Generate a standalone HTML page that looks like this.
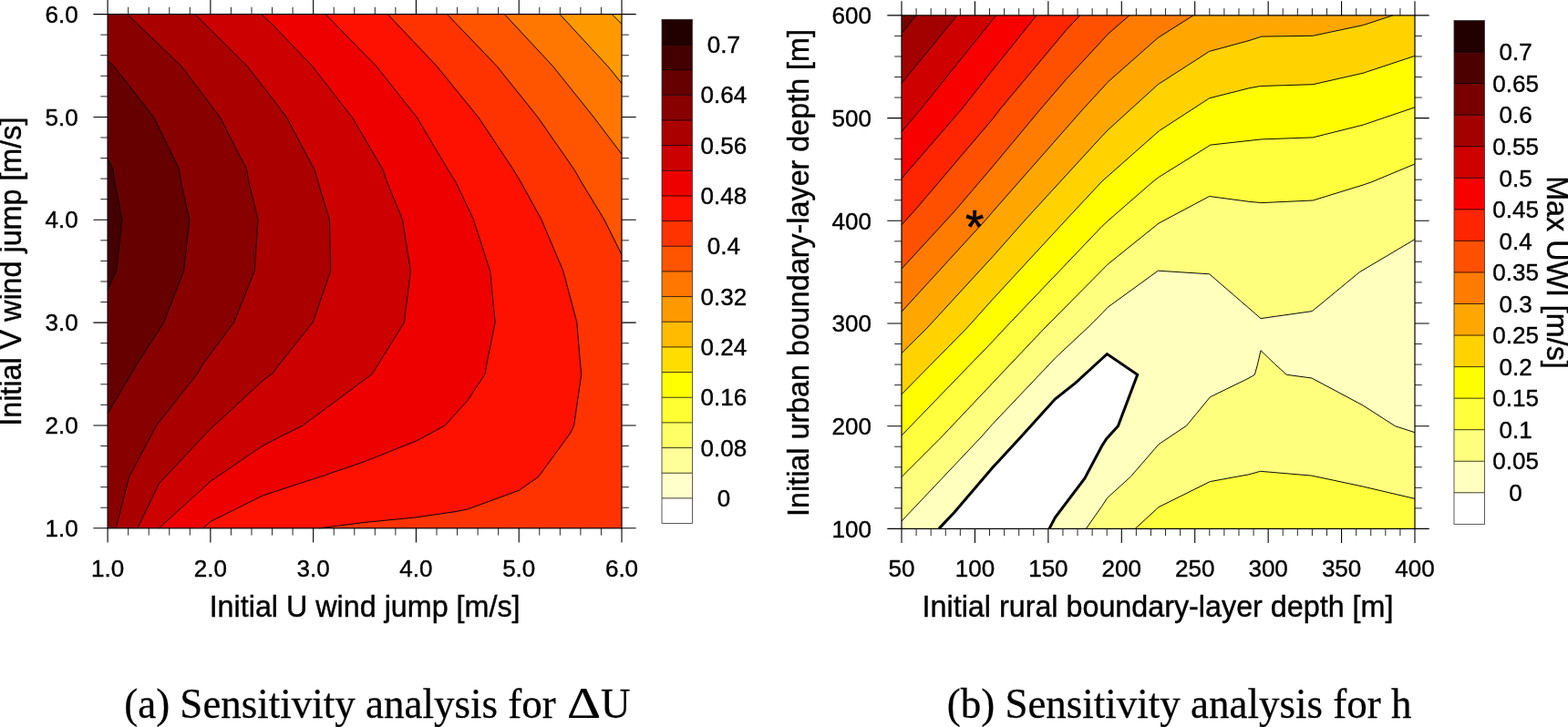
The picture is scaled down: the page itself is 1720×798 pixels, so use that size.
<!DOCTYPE html>
<html lang="en"><head><meta charset="utf-8"><title>Sensitivity analysis</title>
<style>
html,body{margin:0;padding:0;background:#fff;}
body{width:1720px;height:798px;overflow:hidden;}
svg{display:block;}
.s{font-family:"Liberation Sans",Arial,Helvetica,sans-serif;fill:#000;stroke:#000;stroke-width:0.4px;}
.t{font-size:26px;}
.a{font-size:32.3px;}
.c{font-family:"Liberation Serif","Times New Roman",Times,serif;font-size:45px;fill:#000;stroke:#000;stroke-width:0.25px;}
.ln{fill:none;stroke:#000;stroke-width:0.95;stroke-linejoin:round;}
.tk{stroke:#000;stroke-width:1.1;fill:none;}
.tm{stroke:#000;stroke-width:0.85;fill:none;}
.fr{stroke:#000;stroke-width:1.2;fill:none;}
.cb{stroke:#222;stroke-width:0.9;}
</style></head><body>
<svg width="1720" height="798" viewBox="0 0 1720 798">
<rect x="0" y="0" width="1720" height="798" fill="#fff"/>
<g id="plot-a">
<rect x="118.1" y="15.6" width="563.9" height="564.2" fill="#ffbb00"/>
<polygon points="671.2,15.6 682.0,26.3 682.0,579.8 118.1,579.8 118.1,15.6" fill="#ff9900"/>
<polygon points="614.0,15.6 666.7,72.7 682.0,91.5 682.0,579.8 118.1,579.8 118.1,15.6" fill="#ff7700"/>
<polygon points="553.4,15.6 606.5,72.7 651.6,129.0 682.0,169.2 682.0,579.8 118.1,579.8 118.1,15.6" fill="#ff5500"/>
<polygon points="490.5,15.6 500.0,25.6 545.1,72.7 590.2,129.0 630.3,186.7 637.8,200.0 662.9,241.1 682.0,279.7 682.0,579.8 118.1,579.8 118.1,15.6" fill="#ff3300"/>
<polygon points="425.3,15.6 479.2,72.7 500.0,98.3 525.0,129.0 562.7,185.5 571.4,200.0 594.0,241.1 617.8,297.5 632.8,353.9 636.6,400.0 637.8,410.5 629.6,466.9 625.8,475.2 590.7,523.3 569.4,538.3 512.5,559.1 500.0,561.5 456.6,567.9 400.3,573.4 350.1,579.8 118.1,579.8 118.1,15.6" fill="#ff1100"/>
<polygon points="357.1,15.6 412.8,72.7 457.4,129.0 491.7,186.7 500.0,200.0 519.5,241.1 537.6,297.5 543.1,353.9 533.8,400.0 532.1,410.5 512.5,440.1 500.0,453.9 488.0,467.2 456.6,484.0 400.3,506.5 351.4,523.3 300.0,540.0 288.0,544.1 231.1,572.4 222.8,579.8 118.1,579.8 118.1,15.6" fill="#ee0000"/>
<polygon points="286.7,15.6 300.0,28.0 342.6,72.7 386.5,129.0 420.3,186.7 424.6,200.0 441.6,241.1 450.4,297.5 443.4,353.9 414.8,400.0 408.3,410.5 332.1,467.2 300.0,483.0 286.7,490.2 231.6,527.8 174.4,579.8 118.1,579.8 118.1,15.6" fill="#cc0000"/>
<polygon points="214.0,15.6 271.2,72.7 300.0,109.5 314.5,129.0 345.0,186.5 348.9,200.0 361.4,241.1 362.7,297.5 343.1,353.9 306.3,400.0 300.0,409.0 288.0,418.0 230.3,471.4 174.4,530.8 150.9,579.8 118.1,579.8 118.1,15.6" fill="#aa0000"/>
<polygon points="139.6,15.6 199.0,72.7 241.6,129.0 270.4,185.5 273.0,200.0 283.0,241.1 279.2,297.5 256.6,353.9 222.3,400.0 216.5,410.3 171.6,466.9 141.6,523.6 127.1,579.8 118.1,579.8 118.1,15.6" fill="#880000"/>
<polygon points="118.1,66.4 125.0,72.7 168.9,129.0 196.5,185.5 198.5,200.0 207.8,241.1 201.5,297.5 179.7,353.9 150.1,400.0 118.1,453.9" fill="#660000"/>
<polygon points="118.1,174.2 123.8,185.5 125.8,200.0 133.8,241.1 127.6,297.5 118.1,317.8" fill="#440000"/>
<polyline class="ln" points="671.2,15.6 682.0,26.3"/>
<polyline class="ln" points="614.0,15.6 666.7,72.7 682.0,91.5"/>
<polyline class="ln" points="553.4,15.6 606.5,72.7 651.6,129.0 682.0,169.2"/>
<polyline class="ln" points="490.5,15.6 500.0,25.6 545.1,72.7 590.2,129.0 630.3,186.7 637.8,200.0 662.9,241.1 682.0,279.7"/>
<polyline class="ln" points="425.3,15.6 479.2,72.7 500.0,98.3 525.0,129.0 562.7,185.5 571.4,200.0 594.0,241.1 617.8,297.5 632.8,353.9 636.6,400.0 637.8,410.5 629.6,466.9 625.8,475.2 590.7,523.3 569.4,538.3 512.5,559.1 500.0,561.5 456.6,567.9 400.3,573.4 350.1,579.8"/>
<polyline class="ln" points="357.1,15.6 412.8,72.7 457.4,129.0 491.7,186.7 500.0,200.0 519.5,241.1 537.6,297.5 543.1,353.9 533.8,400.0 532.1,410.5 512.5,440.1 500.0,453.9 488.0,467.2 456.6,484.0 400.3,506.5 351.4,523.3 300.0,540.0 288.0,544.1 231.1,572.4 222.8,579.8"/>
<polyline class="ln" points="286.7,15.6 300.0,28.0 342.6,72.7 386.5,129.0 420.3,186.7 424.6,200.0 441.6,241.1 450.4,297.5 443.4,353.9 414.8,400.0 408.3,410.5 332.1,467.2 300.0,483.0 286.7,490.2 231.6,527.8 174.4,579.8"/>
<polyline class="ln" points="214.0,15.6 271.2,72.7 300.0,109.5 314.5,129.0 345.0,186.5 348.9,200.0 361.4,241.1 362.7,297.5 343.1,353.9 306.3,400.0 300.0,409.0 288.0,418.0 230.3,471.4 174.4,530.8 150.9,579.8"/>
<polyline class="ln" points="139.6,15.6 199.0,72.7 241.6,129.0 270.4,185.5 273.0,200.0 283.0,241.1 279.2,297.5 256.6,353.9 222.3,400.0 216.5,410.3 171.6,466.9 141.6,523.6 127.1,579.8"/>
<polyline class="ln" points="118.1,66.4 125.0,72.7 168.9,129.0 196.5,185.5 198.5,200.0 207.8,241.1 201.5,297.5 179.7,353.9 150.1,400.0 118.1,453.9"/>
<polyline class="ln" points="118.1,174.2 123.8,185.5 125.8,200.0 133.8,241.1 127.6,297.5 118.1,317.8"/>
</g>
<g id="plot-b">
<rect x="989.0" y="16.9" width="563.0" height="563.5" fill="#780000"/>
<polygon points="989.0,36.8 1004.8,16.9 1552.0,16.9 1552.0,580.4 989.0,580.4" fill="#a30000"/>
<polygon points="989.0,91.4 1049.9,16.9 1552.0,16.9 1552.0,580.4 989.0,580.4" fill="#ce0000"/>
<polygon points="989.0,144.6 1009.9,120.0 1089.0,21.4 1092.8,16.9 1552.0,16.9 1552.0,580.4 989.0,580.4" fill="#f90000"/>
<polygon points="989.0,196.0 1054.7,120.0 1089.0,76.7 1137.0,16.9 1552.0,16.9 1552.0,580.4 989.0,580.4" fill="#ff2500"/>
<polygon points="989.0,246.8 1004.3,230.0 1089.0,130.4 1096.9,120.0 1170.0,32.5 1184.7,16.9 1552.0,16.9 1552.0,580.4 989.0,580.4" fill="#ff5000"/>
<polygon points="989.0,295.0 1039.7,240.0 1048.7,230.0 1089.0,182.7 1141.2,120.0 1170.0,86.5 1209.0,44.4 1215.1,37.6 1238.9,16.9 1552.0,16.9 1552.0,580.4 989.0,580.4" fill="#ff7c00"/>
<polygon points="989.0,342.2 1082.5,240.0 1089.0,232.3 1187.8,120.0 1209.0,97.0 1215.1,90.2 1270.3,41.4 1309.1,16.9 1552.0,16.9 1552.0,580.4 989.0,580.4" fill="#ffa700"/>
<polygon points="989.0,387.7 1017.0,360.0 1089.0,281.6 1125.8,240.0 1209.0,149.3 1215.1,142.9 1270.3,92.7 1326.6,56.4 1370.0,44.6 1383.8,40.1 1440.2,39.3 1495.3,27.6 1527.9,16.9 1552.0,16.9 1552.0,580.4 989.0,580.4" fill="#ffd200"/>
<polygon points="989.0,432.8 1060.7,360.0 1089.0,328.4 1170.6,240.0 1209.0,198.9 1271.5,143.6 1326.6,107.8 1370.0,96.8 1382.5,94.5 1440.2,92.7 1495.3,80.2 1552.0,61.4 1552.0,580.4 989.0,580.4" fill="#fffd00"/>
<polygon points="989.0,478.0 1089.0,374.6 1102.5,360.0 1209.0,248.3 1215.1,242.6 1264.0,200.0 1271.5,194.2 1327.9,159.1 1370.0,154.4 1383.8,152.9 1440.2,150.9 1495.3,137.1 1552.0,117.8 1552.0,580.4 989.0,580.4" fill="#ffff3d"/>
<polygon points="989.0,523.5 1032.5,480.0 1089.0,420.2 1146.0,360.0 1209.0,296.4 1215.1,290.2 1271.0,245.1 1326.6,215.5 1370.0,221.3 1383.8,222.6 1440.2,220.0 1495.3,203.0 1504.1,200.0 1552.0,180.0 1552.0,580.4 989.0,580.4" fill="#ffff7e"/>
<polygon points="989.0,572.0 1076.0,480.0 1089.0,465.3 1158.2,392.3 1192.8,360.0 1209.0,343.8 1215.1,337.3 1270.3,297.2 1326.6,300.8 1370.0,338.3 1383.0,349.6 1439.4,341.6 1491.6,298.5 1552.0,262.7 1552.0,580.4 989.0,580.4" fill="#ffffbe"/>
<polygon points="1191.3,580.4 1209.0,555.2 1214.6,546.6 1240.2,523.3 1271.0,487.7 1301.6,467.2 1327.4,435.8 1370.0,415.0 1376.3,411.3 1379.5,400.0 1383.0,384.7 1398.8,400.0 1411.4,411.3 1438.9,415.0 1495.3,445.1 1530.4,467.7 1552.0,474.7 1552.0,580.4" fill="#ffff7e"/>
<polygon points="1245.2,580.4 1271.0,556.6 1327.4,528.6 1370.0,520.8 1382.5,517.3 1438.9,522.1 1495.3,534.1 1552.0,547.4 1552.0,580.4" fill="#ffff3d"/>
<polygon points="1029.9,580.4 1047.2,562.0 1089.0,513.1 1119.5,480.0 1157.4,438.0 1180.0,420.2 1209.0,393.5 1214.4,388.6 1247.7,411.3 1226.4,467.7 1213.9,481.5 1209.0,489.0 1189.8,525.1 1157.4,568.0 1151.0,580.4" fill="#ffffff"/>
<polyline class="ln" points="989.0,36.8 1004.8,16.9"/>
<polyline class="ln" points="989.0,91.4 1049.9,16.9"/>
<polyline class="ln" points="989.0,144.6 1009.9,120.0 1089.0,21.4 1092.8,16.9"/>
<polyline class="ln" points="989.0,196.0 1054.7,120.0 1089.0,76.7 1137.0,16.9"/>
<polyline class="ln" points="989.0,246.8 1004.3,230.0 1089.0,130.4 1096.9,120.0 1170.0,32.5 1184.7,16.9"/>
<polyline class="ln" points="989.0,295.0 1039.7,240.0 1048.7,230.0 1089.0,182.7 1141.2,120.0 1170.0,86.5 1209.0,44.4 1215.1,37.6 1238.9,16.9"/>
<polyline class="ln" points="989.0,342.2 1082.5,240.0 1089.0,232.3 1187.8,120.0 1209.0,97.0 1215.1,90.2 1270.3,41.4 1309.1,16.9"/>
<polyline class="ln" points="989.0,387.7 1017.0,360.0 1089.0,281.6 1125.8,240.0 1209.0,149.3 1215.1,142.9 1270.3,92.7 1326.6,56.4 1370.0,44.6 1383.8,40.1 1440.2,39.3 1495.3,27.6 1527.9,16.9"/>
<polyline class="ln" points="989.0,432.8 1060.7,360.0 1089.0,328.4 1170.6,240.0 1209.0,198.9 1271.5,143.6 1326.6,107.8 1370.0,96.8 1382.5,94.5 1440.2,92.7 1495.3,80.2 1552.0,61.4"/>
<polyline class="ln" points="989.0,478.0 1089.0,374.6 1102.5,360.0 1209.0,248.3 1215.1,242.6 1264.0,200.0 1271.5,194.2 1327.9,159.1 1370.0,154.4 1383.8,152.9 1440.2,150.9 1495.3,137.1 1552.0,117.8"/>
<polyline class="ln" points="989.0,523.5 1032.5,480.0 1089.0,420.2 1146.0,360.0 1209.0,296.4 1215.1,290.2 1271.0,245.1 1326.6,215.5 1370.0,221.3 1383.8,222.6 1440.2,220.0 1495.3,203.0 1504.1,200.0 1552.0,180.0"/>
<polyline class="ln" points="989.0,572.0 1076.0,480.0 1089.0,465.3 1158.2,392.3 1192.8,360.0 1209.0,343.8 1215.1,337.3 1270.3,297.2 1326.6,300.8 1370.0,338.3 1383.0,349.6 1439.4,341.6 1491.6,298.5 1552.0,262.7"/>
<polyline class="ln" points="1191.3,580.4 1209.0,555.2 1214.6,546.6 1240.2,523.3 1271.0,487.7 1301.6,467.2 1327.4,435.8 1370.0,415.0 1376.3,411.3 1379.5,400.0 1383.0,384.7 1398.8,400.0 1411.4,411.3 1438.9,415.0 1495.3,445.1 1530.4,467.7 1552.0,474.7"/>
<polyline class="ln" points="1245.2,580.4 1271.0,556.6 1327.4,528.6 1370.0,520.8 1382.5,517.3 1438.9,522.1 1495.3,534.1 1552.0,547.4"/>
<polyline points="1029.9,580.4 1047.2,562.0 1089.0,513.1 1119.5,480.0 1157.4,438.0 1180.0,420.2 1209.0,393.5 1214.4,388.6 1247.7,411.3 1226.4,467.7 1213.9,481.5 1209.0,489.0 1189.8,525.1 1157.4,568.0 1151.0,580.4" fill="none" stroke="#000" stroke-width="3" stroke-linejoin="miter"/>
</g>
<g id="axes">
<path class="tk" d="M118.10 15.60V-0.10M118.10 579.80V595.50M230.88 15.60V-0.10M230.88 579.80V595.50M343.66 15.60V-0.10M343.66 579.80V595.50M456.44 15.60V-0.10M456.44 579.80V595.50M569.22 15.60V-0.10M569.22 579.80V595.50M682.00 15.60V-0.10M682.00 579.80V595.50M118.10 15.60H102.40M682.00 15.60H697.70M118.10 128.44H102.40M682.00 128.44H697.70M118.10 241.28H102.40M682.00 241.28H697.70M118.10 354.12H102.40M682.00 354.12H697.70M118.10 466.96H102.40M682.00 466.96H697.70M118.10 579.80H102.40M682.00 579.80H697.70"/>
<path class="tm" d="M140.66 15.60V7.80M140.66 579.80V587.60M163.21 15.60V7.80M163.21 579.80V587.60M185.77 15.60V7.80M185.77 579.80V587.60M208.32 15.60V7.80M208.32 579.80V587.60M253.44 15.60V7.80M253.44 579.80V587.60M275.99 15.60V7.80M275.99 579.80V587.60M298.55 15.60V7.80M298.55 579.80V587.60M321.10 15.60V7.80M321.10 579.80V587.60M366.22 15.60V7.80M366.22 579.80V587.60M388.77 15.60V7.80M388.77 579.80V587.60M411.33 15.60V7.80M411.33 579.80V587.60M433.88 15.60V7.80M433.88 579.80V587.60M479.00 15.60V7.80M479.00 579.80V587.60M501.55 15.60V7.80M501.55 579.80V587.60M524.11 15.60V7.80M524.11 579.80V587.60M546.66 15.60V7.80M546.66 579.80V587.60M591.78 15.60V7.80M591.78 579.80V587.60M614.33 15.60V7.80M614.33 579.80V587.60M636.89 15.60V7.80M636.89 579.80V587.60M659.44 15.60V7.80M659.44 579.80V587.60M118.10 38.17H110.30M682.00 38.17H689.80M118.10 60.74H110.30M682.00 60.74H689.80M118.10 83.30H110.30M682.00 83.30H689.80M118.10 105.87H110.30M682.00 105.87H689.80M118.10 151.01H110.30M682.00 151.01H689.80M118.10 173.58H110.30M682.00 173.58H689.80M118.10 196.14H110.30M682.00 196.14H689.80M118.10 218.71H110.30M682.00 218.71H689.80M118.10 263.85H110.30M682.00 263.85H689.80M118.10 286.42H110.30M682.00 286.42H689.80M118.10 308.98H110.30M682.00 308.98H689.80M118.10 331.55H110.30M682.00 331.55H689.80M118.10 376.69H110.30M682.00 376.69H689.80M118.10 399.26H110.30M682.00 399.26H689.80M118.10 421.82H110.30M682.00 421.82H689.80M118.10 444.39H110.30M682.00 444.39H689.80M118.10 489.53H110.30M682.00 489.53H689.80M118.10 512.10H110.30M682.00 512.10H689.80M118.10 534.66H110.30M682.00 534.66H689.80M118.10 557.23H110.30M682.00 557.23H689.80"/>
<rect class="fr" x="118.1" y="15.6" width="563.9" height="564.2"/>
<path class="tk" d="M989.00 16.90V1.20M989.00 580.40V596.10M1069.43 16.90V1.20M1069.43 580.40V596.10M1149.86 16.90V1.20M1149.86 580.40V596.10M1230.29 16.90V1.20M1230.29 580.40V596.10M1310.71 16.90V1.20M1310.71 580.40V596.10M1391.14 16.90V1.20M1391.14 580.40V596.10M1471.57 16.90V1.20M1471.57 580.40V596.10M1552.00 16.90V1.20M1552.00 580.40V596.10M989.00 16.90H973.30M1552.00 16.90H1567.70M989.00 129.60H973.30M1552.00 129.60H1567.70M989.00 242.30H973.30M1552.00 242.30H1567.70M989.00 355.00H973.30M1552.00 355.00H1567.70M989.00 467.70H973.30M1552.00 467.70H1567.70M989.00 580.40H973.30M1552.00 580.40H1567.70"/>
<path class="tm" d="M1005.09 16.90V9.10M1005.09 580.40V588.20M1021.17 16.90V9.10M1021.17 580.40V588.20M1037.26 16.90V9.10M1037.26 580.40V588.20M1053.34 16.90V9.10M1053.34 580.40V588.20M1085.51 16.90V9.10M1085.51 580.40V588.20M1101.60 16.90V9.10M1101.60 580.40V588.20M1117.69 16.90V9.10M1117.69 580.40V588.20M1133.77 16.90V9.10M1133.77 580.40V588.20M1165.94 16.90V9.10M1165.94 580.40V588.20M1182.03 16.90V9.10M1182.03 580.40V588.20M1198.11 16.90V9.10M1198.11 580.40V588.20M1214.20 16.90V9.10M1214.20 580.40V588.20M1246.37 16.90V9.10M1246.37 580.40V588.20M1262.46 16.90V9.10M1262.46 580.40V588.20M1278.54 16.90V9.10M1278.54 580.40V588.20M1294.63 16.90V9.10M1294.63 580.40V588.20M1326.80 16.90V9.10M1326.80 580.40V588.20M1342.89 16.90V9.10M1342.89 580.40V588.20M1358.97 16.90V9.10M1358.97 580.40V588.20M1375.06 16.90V9.10M1375.06 580.40V588.20M1407.23 16.90V9.10M1407.23 580.40V588.20M1423.31 16.90V9.10M1423.31 580.40V588.20M1439.40 16.90V9.10M1439.40 580.40V588.20M1455.49 16.90V9.10M1455.49 580.40V588.20M1487.66 16.90V9.10M1487.66 580.40V588.20M1503.74 16.90V9.10M1503.74 580.40V588.20M1519.83 16.90V9.10M1519.83 580.40V588.20M1535.91 16.90V9.10M1535.91 580.40V588.20M989.00 39.44H981.20M1552.00 39.44H1559.80M989.00 61.98H981.20M1552.00 61.98H1559.80M989.00 84.52H981.20M1552.00 84.52H1559.80M989.00 107.06H981.20M1552.00 107.06H1559.80M989.00 152.14H981.20M1552.00 152.14H1559.80M989.00 174.68H981.20M1552.00 174.68H1559.80M989.00 197.22H981.20M1552.00 197.22H1559.80M989.00 219.76H981.20M1552.00 219.76H1559.80M989.00 264.84H981.20M1552.00 264.84H1559.80M989.00 287.38H981.20M1552.00 287.38H1559.80M989.00 309.92H981.20M1552.00 309.92H1559.80M989.00 332.46H981.20M1552.00 332.46H1559.80M989.00 377.54H981.20M1552.00 377.54H1559.80M989.00 400.08H981.20M1552.00 400.08H1559.80M989.00 422.62H981.20M1552.00 422.62H1559.80M989.00 445.16H981.20M1552.00 445.16H1559.80M989.00 490.24H981.20M1552.00 490.24H1559.80M989.00 512.78H981.20M1552.00 512.78H1559.80M989.00 535.32H981.20M1552.00 535.32H1559.80M989.00 557.86H981.20M1552.00 557.86H1559.80"/>
<rect class="fr" x="989.0" y="16.9" width="563.0" height="563.5"/>
</g>
<g class="s t" id="ticklabels">
<text transform="translate(85.60 24.80)" text-anchor="end">6.0</text>
<text transform="translate(85.60 137.64)" text-anchor="end">5.0</text>
<text transform="translate(85.60 250.48)" text-anchor="end">4.0</text>
<text transform="translate(85.60 363.32)" text-anchor="end">3.0</text>
<text transform="translate(85.60 476.16)" text-anchor="end">2.0</text>
<text transform="translate(85.60 589.00)" text-anchor="end">1.0</text>
<text transform="translate(118.10 632.70)" text-anchor="middle">1.0</text>
<text transform="translate(230.88 632.70)" text-anchor="middle">2.0</text>
<text transform="translate(343.66 632.70)" text-anchor="middle">3.0</text>
<text transform="translate(456.44 632.70)" text-anchor="middle">4.0</text>
<text transform="translate(569.22 632.70)" text-anchor="middle">5.0</text>
<text transform="translate(682.00 632.70)" text-anchor="middle">6.0</text>
<text transform="translate(956.00 26.10)" text-anchor="end">600</text>
<text transform="translate(956.00 138.80)" text-anchor="end">500</text>
<text transform="translate(956.00 251.50)" text-anchor="end">400</text>
<text transform="translate(956.00 364.20)" text-anchor="end">300</text>
<text transform="translate(956.00 476.90)" text-anchor="end">200</text>
<text transform="translate(956.00 589.60)" text-anchor="end">100</text>
<text transform="translate(989.00 632.70)" text-anchor="middle">50</text>
<text transform="translate(1069.43 632.70)" text-anchor="middle">100</text>
<text transform="translate(1149.86 632.70)" text-anchor="middle">150</text>
<text transform="translate(1230.29 632.70)" text-anchor="middle">200</text>
<text transform="translate(1310.71 632.70)" text-anchor="middle">250</text>
<text transform="translate(1391.14 632.70)" text-anchor="middle">300</text>
<text transform="translate(1471.57 632.70)" text-anchor="middle">350</text>
<text transform="translate(1552.00 632.70)" text-anchor="middle">400</text>
</g>
<g class="s a" id="titles">
<text transform="translate(400.10 676.70) scale(1 1.040)" text-anchor="middle">Initial U wind jump [m/s]</text>
<text transform="translate(23.40 298.20) rotate(-90) scale(1 1.040)" text-anchor="middle">Initial V wind jump [m/s]</text>
<text transform="translate(1270.00 676.70) scale(1 1.040)" text-anchor="middle">Initial rural boundary-layer depth [m]</text>
<text transform="translate(886.90 299.50) rotate(-90) scale(1 1.040)" text-anchor="middle">Initial urban boundary-layer depth [m]</text>
<text transform="translate(1696.80 299.00) rotate(90) scale(1 1.040)" text-anchor="middle">Max UWI [m/s]</text>
</g>
<g>
<rect x="726.0" y="546.89" width="33.4" height="27.66" fill="#ffffff"/>
<rect x="726.0" y="519.22" width="33.4" height="27.96" fill="#ffffcc"/>
<rect x="726.0" y="491.56" width="33.4" height="27.96" fill="#ffff99"/>
<rect x="726.0" y="463.90" width="33.4" height="27.96" fill="#ffff66"/>
<rect x="726.0" y="436.24" width="33.4" height="27.96" fill="#ffff33"/>
<rect x="726.0" y="408.57" width="33.4" height="27.96" fill="#ffff00"/>
<rect x="726.0" y="380.91" width="33.4" height="27.96" fill="#ffdd00"/>
<rect x="726.0" y="353.25" width="33.4" height="27.96" fill="#ffbb00"/>
<rect x="726.0" y="325.59" width="33.4" height="27.96" fill="#ff9900"/>
<rect x="726.0" y="297.92" width="33.4" height="27.96" fill="#ff7700"/>
<rect x="726.0" y="270.26" width="33.4" height="27.96" fill="#ff5500"/>
<rect x="726.0" y="242.60" width="33.4" height="27.96" fill="#ff3300"/>
<rect x="726.0" y="214.94" width="33.4" height="27.96" fill="#ff1100"/>
<rect x="726.0" y="187.27" width="33.4" height="27.96" fill="#ee0000"/>
<rect x="726.0" y="159.61" width="33.4" height="27.96" fill="#cc0000"/>
<rect x="726.0" y="131.95" width="33.4" height="27.96" fill="#aa0000"/>
<rect x="726.0" y="104.29" width="33.4" height="27.96" fill="#880000"/>
<rect x="726.0" y="76.62" width="33.4" height="27.96" fill="#660000"/>
<rect x="726.0" y="48.96" width="33.4" height="27.96" fill="#440000"/>
<rect x="726.0" y="21.30" width="33.4" height="27.96" fill="#220000"/>
<path d="M726.0 546.89H759.4M726.0 519.22H759.4M726.0 491.56H759.4M726.0 463.90H759.4M726.0 436.24H759.4M726.0 408.57H759.4M726.0 380.91H759.4M726.0 353.25H759.4M726.0 325.59H759.4M726.0 297.92H759.4M726.0 270.26H759.4M726.0 242.60H759.4M726.0 214.94H759.4M726.0 187.27H759.4M726.0 159.61H759.4M726.0 131.95H759.4M726.0 104.29H759.4M726.0 76.62H759.4M726.0 48.96H759.4" fill="none" stroke="#000" stroke-width="0.75"/>
<rect x="726.0" y="21.30" width="33.4" height="553.25" fill="none" stroke="#333" stroke-width="0.8"/>
</g>
<g class="s t">
<text transform="translate(793.90 556.09)" text-anchor="middle">0</text>
<text transform="translate(793.90 500.76)" text-anchor="middle">0.08</text>
<text transform="translate(793.90 445.44)" text-anchor="middle">0.16</text>
<text transform="translate(793.90 390.11)" text-anchor="middle">0.24</text>
<text transform="translate(793.90 334.79)" text-anchor="middle">0.32</text>
<text transform="translate(793.90 279.46)" text-anchor="middle">0.4</text>
<text transform="translate(793.90 224.14)" text-anchor="middle">0.48</text>
<text transform="translate(793.90 168.81)" text-anchor="middle">0.56</text>
<text transform="translate(793.90 113.49)" text-anchor="middle">0.64</text>
<text transform="translate(793.90 58.16)" text-anchor="middle">0.7</text>
</g>
<g>
<rect x="1595.0" y="540.80" width="33.5" height="34.55" fill="#ffffff"/>
<rect x="1595.0" y="506.25" width="33.5" height="34.85" fill="#ffffbe"/>
<rect x="1595.0" y="471.70" width="33.5" height="34.85" fill="#ffff7e"/>
<rect x="1595.0" y="437.15" width="33.5" height="34.85" fill="#ffff3d"/>
<rect x="1595.0" y="402.60" width="33.5" height="34.85" fill="#fffd00"/>
<rect x="1595.0" y="368.05" width="33.5" height="34.85" fill="#ffd200"/>
<rect x="1595.0" y="333.50" width="33.5" height="34.85" fill="#ffa700"/>
<rect x="1595.0" y="298.95" width="33.5" height="34.85" fill="#ff7c00"/>
<rect x="1595.0" y="264.40" width="33.5" height="34.85" fill="#ff5000"/>
<rect x="1595.0" y="229.85" width="33.5" height="34.85" fill="#ff2500"/>
<rect x="1595.0" y="195.30" width="33.5" height="34.85" fill="#f90000"/>
<rect x="1595.0" y="160.75" width="33.5" height="34.85" fill="#ce0000"/>
<rect x="1595.0" y="126.20" width="33.5" height="34.85" fill="#a30000"/>
<rect x="1595.0" y="91.65" width="33.5" height="34.85" fill="#780000"/>
<rect x="1595.0" y="57.10" width="33.5" height="34.85" fill="#4d0000"/>
<rect x="1595.0" y="22.55" width="33.5" height="34.85" fill="#220000"/>
<path d="M1595.0 540.80H1628.5M1595.0 506.25H1628.5M1595.0 471.70H1628.5M1595.0 437.15H1628.5M1595.0 402.60H1628.5M1595.0 368.05H1628.5M1595.0 333.50H1628.5M1595.0 298.95H1628.5M1595.0 264.40H1628.5M1595.0 229.85H1628.5M1595.0 195.30H1628.5M1595.0 160.75H1628.5M1595.0 126.20H1628.5M1595.0 91.65H1628.5M1595.0 57.10H1628.5" fill="none" stroke="#000" stroke-width="0.75"/>
<rect x="1595.0" y="22.55" width="33.5" height="552.80" fill="none" stroke="#333" stroke-width="0.8"/>
</g>
<g class="s t">
<text transform="translate(1662.60 550.00)" text-anchor="middle">0</text>
<text transform="translate(1662.60 515.45)" text-anchor="middle">0.05</text>
<text transform="translate(1662.60 480.90)" text-anchor="middle">0.1</text>
<text transform="translate(1662.60 446.35)" text-anchor="middle">0.15</text>
<text transform="translate(1662.60 411.80)" text-anchor="middle">0.2</text>
<text transform="translate(1662.60 377.25)" text-anchor="middle">0.25</text>
<text transform="translate(1662.60 342.70)" text-anchor="middle">0.3</text>
<text transform="translate(1662.60 308.15)" text-anchor="middle">0.35</text>
<text transform="translate(1662.60 273.60)" text-anchor="middle">0.4</text>
<text transform="translate(1662.60 239.05)" text-anchor="middle">0.45</text>
<text transform="translate(1662.60 204.50)" text-anchor="middle">0.5</text>
<text transform="translate(1662.60 169.95)" text-anchor="middle">0.55</text>
<text transform="translate(1662.60 135.40)" text-anchor="middle">0.6</text>
<text transform="translate(1662.60 100.85)" text-anchor="middle">0.65</text>
<text transform="translate(1662.60 66.30)" text-anchor="middle">0.7</text>
</g>
<text class="s" x="1069.2" y="266.9" text-anchor="middle" font-size="52" style="stroke-width:0.7px">*</text>
<g class="c" id="captions">
<text transform="translate(136.20 788.20) scale(1 1.030)" text-anchor="start">(a) Sensitivity analysis for </text>
<text transform="translate(621.9 788.2) scale(1.2 1.0)" font-size="48">&#916;</text>
<text transform="translate(658.90 788.20) scale(1 1.030)" text-anchor="start">U</text>
<text transform="translate(1038.70 788.20) scale(1 1.030)" text-anchor="start">(b) Sensitivity analysis for h</text>
</g>
</svg>
</body></html>
